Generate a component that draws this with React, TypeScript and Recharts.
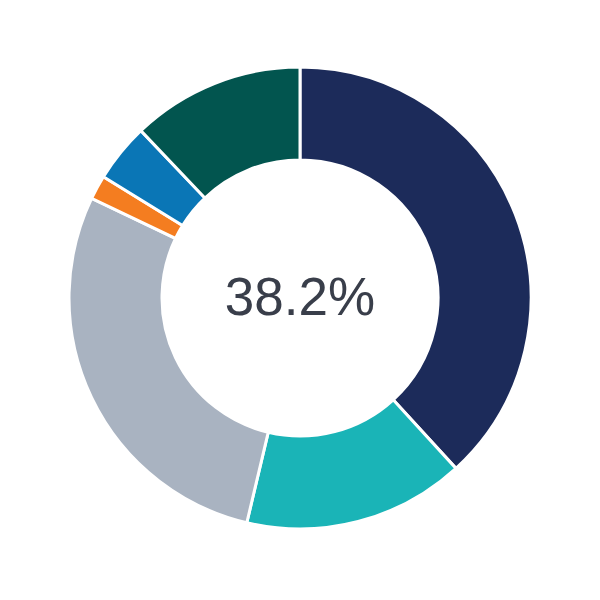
import React from "react";
import { PieChart, Pie, Cell } from "recharts";

const categories = ["A", "B", "C", "D", "E", "F"];
const values = [38.2, 15.5, 28.4, 1.7, 4.1, 12.1];
const colors = ["#1c2b5a", "#1ab4b7", "#a9b3c1", "#f47d20", "#0a76b6", "#02554f"];
const centerLabel = "38.2%";

const data = categories.map((name, i) => ({ name, value: values[i] }));

export default function App() {
  return (
    <div style={{ position: "absolute", left: 0, top: 0, width: 600, height: 600, background: "#fff" }}>
      <PieChart width={600} height={600} margin={{ top: 0, right: 0, bottom: 0, left: 0 }}>
        <Pie
          data={data}
          dataKey="value"
          nameKey="name"
          cx={300}
          cy={298}
          innerRadius={138}
          outerRadius={231}
          startAngle={90}
          endAngle={-270}
          stroke="#ffffff"
          strokeWidth={3}
          isAnimationActive={false}
        >
          {data.map((d, i) => (
            <Cell key={d.name} fill={colors[i]} />
          ))}
        </Pie>
        <text
          x={300}
          y={296}
          textAnchor="middle"
          dominantBaseline="central"
          style={{ fontFamily: "'Liberation Sans', Arial, sans-serif", fontSize: 53, fill: "#393e4a" }}
        >
          {centerLabel}
        </text>
      </PieChart>
    </div>
  );
}
